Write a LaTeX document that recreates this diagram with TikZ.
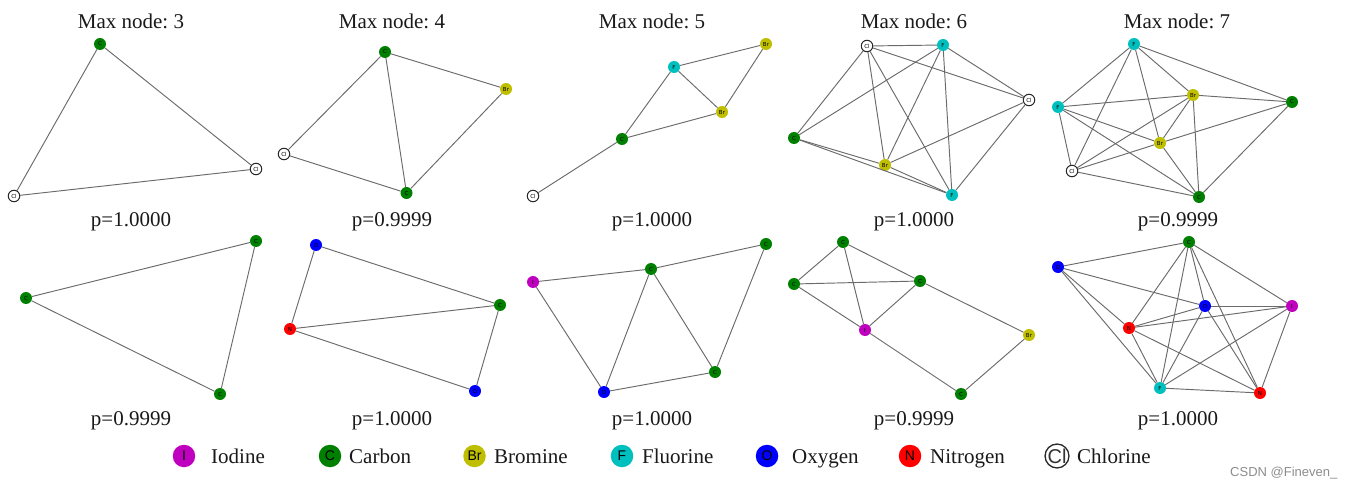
\documentclass[tikz,border=0pt]{standalone}
\usepackage{fontspec}
\setmainfont{Liberation Serif}
\newfontfamily\labelfont{DejaVu Sans}
\newfontfamily\keyfont{Liberation Sans}
\newfontfamily\markfont{Liberation Sans}
\frenchspacing
\definecolor{cC}{HTML}{008000}
\definecolor{cBr}{HTML}{BFBF00}
\definecolor{cF}{HTML}{00BFBF}
\definecolor{cI}{HTML}{BF00BF}
\definecolor{cO}{HTML}{0000FF}
\definecolor{cN}{HTML}{FF0000}
\tikzset{
  atom/.style={circle,inner sep=0pt,minimum size=12pt,font=\labelfont\fontsize{5.5}{5.5}\selectfont,text=black},
  atomC/.style={atom,fill=cC},
  atomBr/.style={atom,fill=cBr},
  atomF/.style={atom,fill=cF},
  atomI/.style={atom,fill=cI},
  atomO/.style={atom,fill=cO},
  atomN/.style={atom,fill=cN},
  atomCl/.style={atom,fill=white,draw=black!85,line width=1pt,minimum size=11.5pt},
  bigatom/.style={minimum size=22.5pt,font=\keyfont\fontsize{14}{14}\selectfont},
  bigcl/.style={minimum size=21pt,line width=1.3pt,font=\keyfont\fontsize{20}{20}\selectfont,text=black!80},
  bond/.style={draw=black!58,line width=0.95pt},
  headtext/.style={font=\fontsize{21}{24}\selectfont,text=black!90,inner sep=0pt,anchor=base},
  legendtext/.style={font=\fontsize{21}{24}\selectfont,text=black!90,inner sep=0pt,anchor=base west}
}
\begin{document}
\begin{tikzpicture}[x=1pt,y=-1pt]
\useasboundingbox (0,0) rectangle (1351,486);
% titles
\node[headtext] (t3) at (131,29) {Max node: 3};
\node[headtext] (t4) at (392,29) {Max node: 4};
\node[headtext] (t5) at (652,29) {Max node: 5};
\node[headtext] (t6) at (914,29) {Max node: 6};
\node[headtext] (t7) at (1177,29) {Max node: 7};
% scores
\node[headtext] (p1) at (131,227) {p=1.0000};
\node[headtext] (p2) at (392,227) {p=0.9999};
\node[headtext] (p3) at (652,227) {p=1.0000};
\node[headtext] (p4) at (914,227) {p=1.0000};
\node[headtext] (p5) at (1178,227) {p=0.9999};
\node[headtext] (q1) at (131,425) {p=0.9999};
\node[headtext] (q2) at (392,425) {p=1.0000};
\node[headtext] (q3) at (652,425) {p=1.0000};
\node[headtext] (q4) at (914,425) {p=0.9999};
\node[headtext] (q5) at (1178,425) {p=1.0000};
% panel A: max node 3
\node[atomC]  (aa) at (100,44) {C};
\node[atomCl] (ab) at (14,196) {Cl};
\node[atomCl] (ac) at (256,169) {Cl};
\foreach \u/\v in {aa/ab,aa/ac,ab/ac} \draw[bond] (\u) -- (\v);
% panel B: max node 4
\node[atomC]  (ba) at (385,52) {C};
\node[atomBr] (bb) at (506,89) {Br};
\node[atomCl] (bc) at (284,154) {Cl};
\node[atomC]  (bd) at (406.5,193) {C};
\foreach \u/\v in {ba/bb,ba/bc,ba/bd,bb/bd,bc/bd} \draw[bond] (\u) -- (\v);
% panel C: max node 5
\node[atomF]  (ca) at (674,67) {F};
\node[atomBr] (cb) at (766,44) {Br};
\node[atomBr] (cc) at (722,112) {Br};
\node[atomC]  (cd) at (622,139) {C};
\node[atomCl] (ce) at (533,196) {Cl};
\foreach \u/\v in {ce/cd,cd/ca,cd/cc,ca/cb,ca/cc,cb/cc} \draw[bond] (\u) -- (\v);
% panel D: max node 6
\node[atomCl] (da) at (867,46) {Cl};
\node[atomF]  (db) at (943,45) {F};
\node[atomCl] (dc) at (1029,100) {Cl};
\node[atomC]  (dd) at (794,138) {C};
\node[atomBr] (de) at (885,165) {Br};
\node[atomF]  (df) at (952,195) {F};
\foreach \u/\v in {da/db,da/dc,da/dd,da/de,da/df,db/dc,db/dd,db/de,db/df,dc/de,dc/df,dd/de,dd/df,de/df} \draw[bond] (\u) -- (\v);
% panel E: max node 7
\node[atomF]  (ea) at (1134,44) {F};
\node[atomF]  (eb) at (1058,107) {F};
\node[atomBr] (ec) at (1193,95) {Br};
\node[atomC]  (ed) at (1292,102) {C};
\node[atomBr] (ee) at (1160,143) {Br};
\node[atomCl] (ef) at (1072,171) {Cl};
\node[atomC]  (eg) at (1199,197) {C};
\foreach \u/\v in {ea/eb,ea/ef,ea/ee,ea/ec,ea/ed,eb/ec,eb/ee,eb/ef,eb/eg,ec/ed,ec/ee,ec/ef,ec/eg,ed/ee,ed/eg,ee/ef,ee/eg,ef/eg} \draw[bond] (\u) -- (\v);
% panel F
\node[atomC] (fa) at (26,298) {C};
\node[atomC] (fb) at (256,241) {C};
\node[atomC] (fc) at (220,394) {C};
\foreach \u/\v in {fa/fb,fa/fc,fb/fc} \draw[bond] (\u) -- (\v);
% panel G
\node[atomO] (ga) at (316,245) {O};
\node[atomC] (gb) at (500,305) {C};
\node[atomN] (gc) at (290,329) {N};
\node[atomO] (gd) at (475,391) {O};
\foreach \u/\v in {ga/gc,ga/gb,gc/gb,gc/gd,gb/gd} \draw[bond] (\u) -- (\v);
% panel H
\node[atomI] (ha) at (533,282) {I};
\node[atomC] (hb) at (651,269) {C};
\node[atomC] (hc) at (766,244) {C};
\node[atomC] (hd) at (715,372) {C};
\node[atomO] (he) at (604,392) {O};
\foreach \u/\v in {ha/hb,hb/hc,ha/he,he/hb,hb/hd,hc/hd,he/hd} \draw[bond] (\u) -- (\v);
% panel J
\node[atomC]  (ja) at (843,242) {C};
\node[atomC]  (jb) at (794,284) {C};
\node[atomC]  (jc) at (920,281) {C};
\node[atomI]  (jd) at (865,330) {I};
\node[atomBr] (je) at (1029,335) {Br};
\node[atomC]  (jf) at (961,394) {C};
\foreach \u/\v in {ja/jb,ja/jc,ja/jd,jb/jc,jb/jd,jc/jd,jc/je,jd/jf,je/jf} \draw[bond] (\u) -- (\v);
% panel K
\node[atomC] (ka) at (1189,242) {C};
\node[atomO] (kb) at (1058,267) {O};
\node[atomO] (kc) at (1205,306) {O};
\node[atomI] (kd) at (1292,306) {I};
\node[atomN] (ke) at (1129,328) {N};
\node[atomF] (kf) at (1160,388) {F};
\node[atomN] (kg) at (1260,393) {N};
\foreach \u/\v in {ka/kb,ka/ke,ka/kf,ka/kc,ka/kg,ka/kd,kb/kc,kb/ke,kb/kf,kc/kd,kc/ke,kc/kf,kc/kg,kd/ke,kd/kf,kd/kg,ke/kf,ke/kg,kf/kg} \draw[bond] (\u) -- (\v);
% legend
\node[atomI,bigatom]  (li) at (184,456) {I};
\node[legendtext] (lit) at (211,463) {Iodine};
\node[atomC,bigatom]  (lc) at (330,456) {C};
\node[legendtext] (lct) at (349,463) {Carbon};
\node[atomBr,bigatom] (lb) at (474.5,456) {Br};
\node[legendtext] (lbt) at (494,463) {Bromine};
\node[atomF,bigatom]  (lf) at (622,456) {F};
\node[legendtext] (lft) at (642,463) {Fluorine};
\node[atomO,bigatom]  (lo) at (767,456) {O};
\node[legendtext] (lot) at (792,463) {Oxygen};
\node[atomN,bigatom]  (ln) at (910,456) {N};
\node[legendtext] (lnt) at (930,463) {Nitrogen};
\node[atomCl,bigatom,bigcl] (ll) at (1057,456) {Cl};
\node[legendtext] (llt) at (1077,463) {Chlorine};
% watermark
\node[inner sep=0pt,anchor=base west,text=black!45,font=\markfont\fontsize{13}{14}\selectfont] (wm) at (1230,476) {CSDN @Fineven\_};
\end{tikzpicture}
\end{document}
